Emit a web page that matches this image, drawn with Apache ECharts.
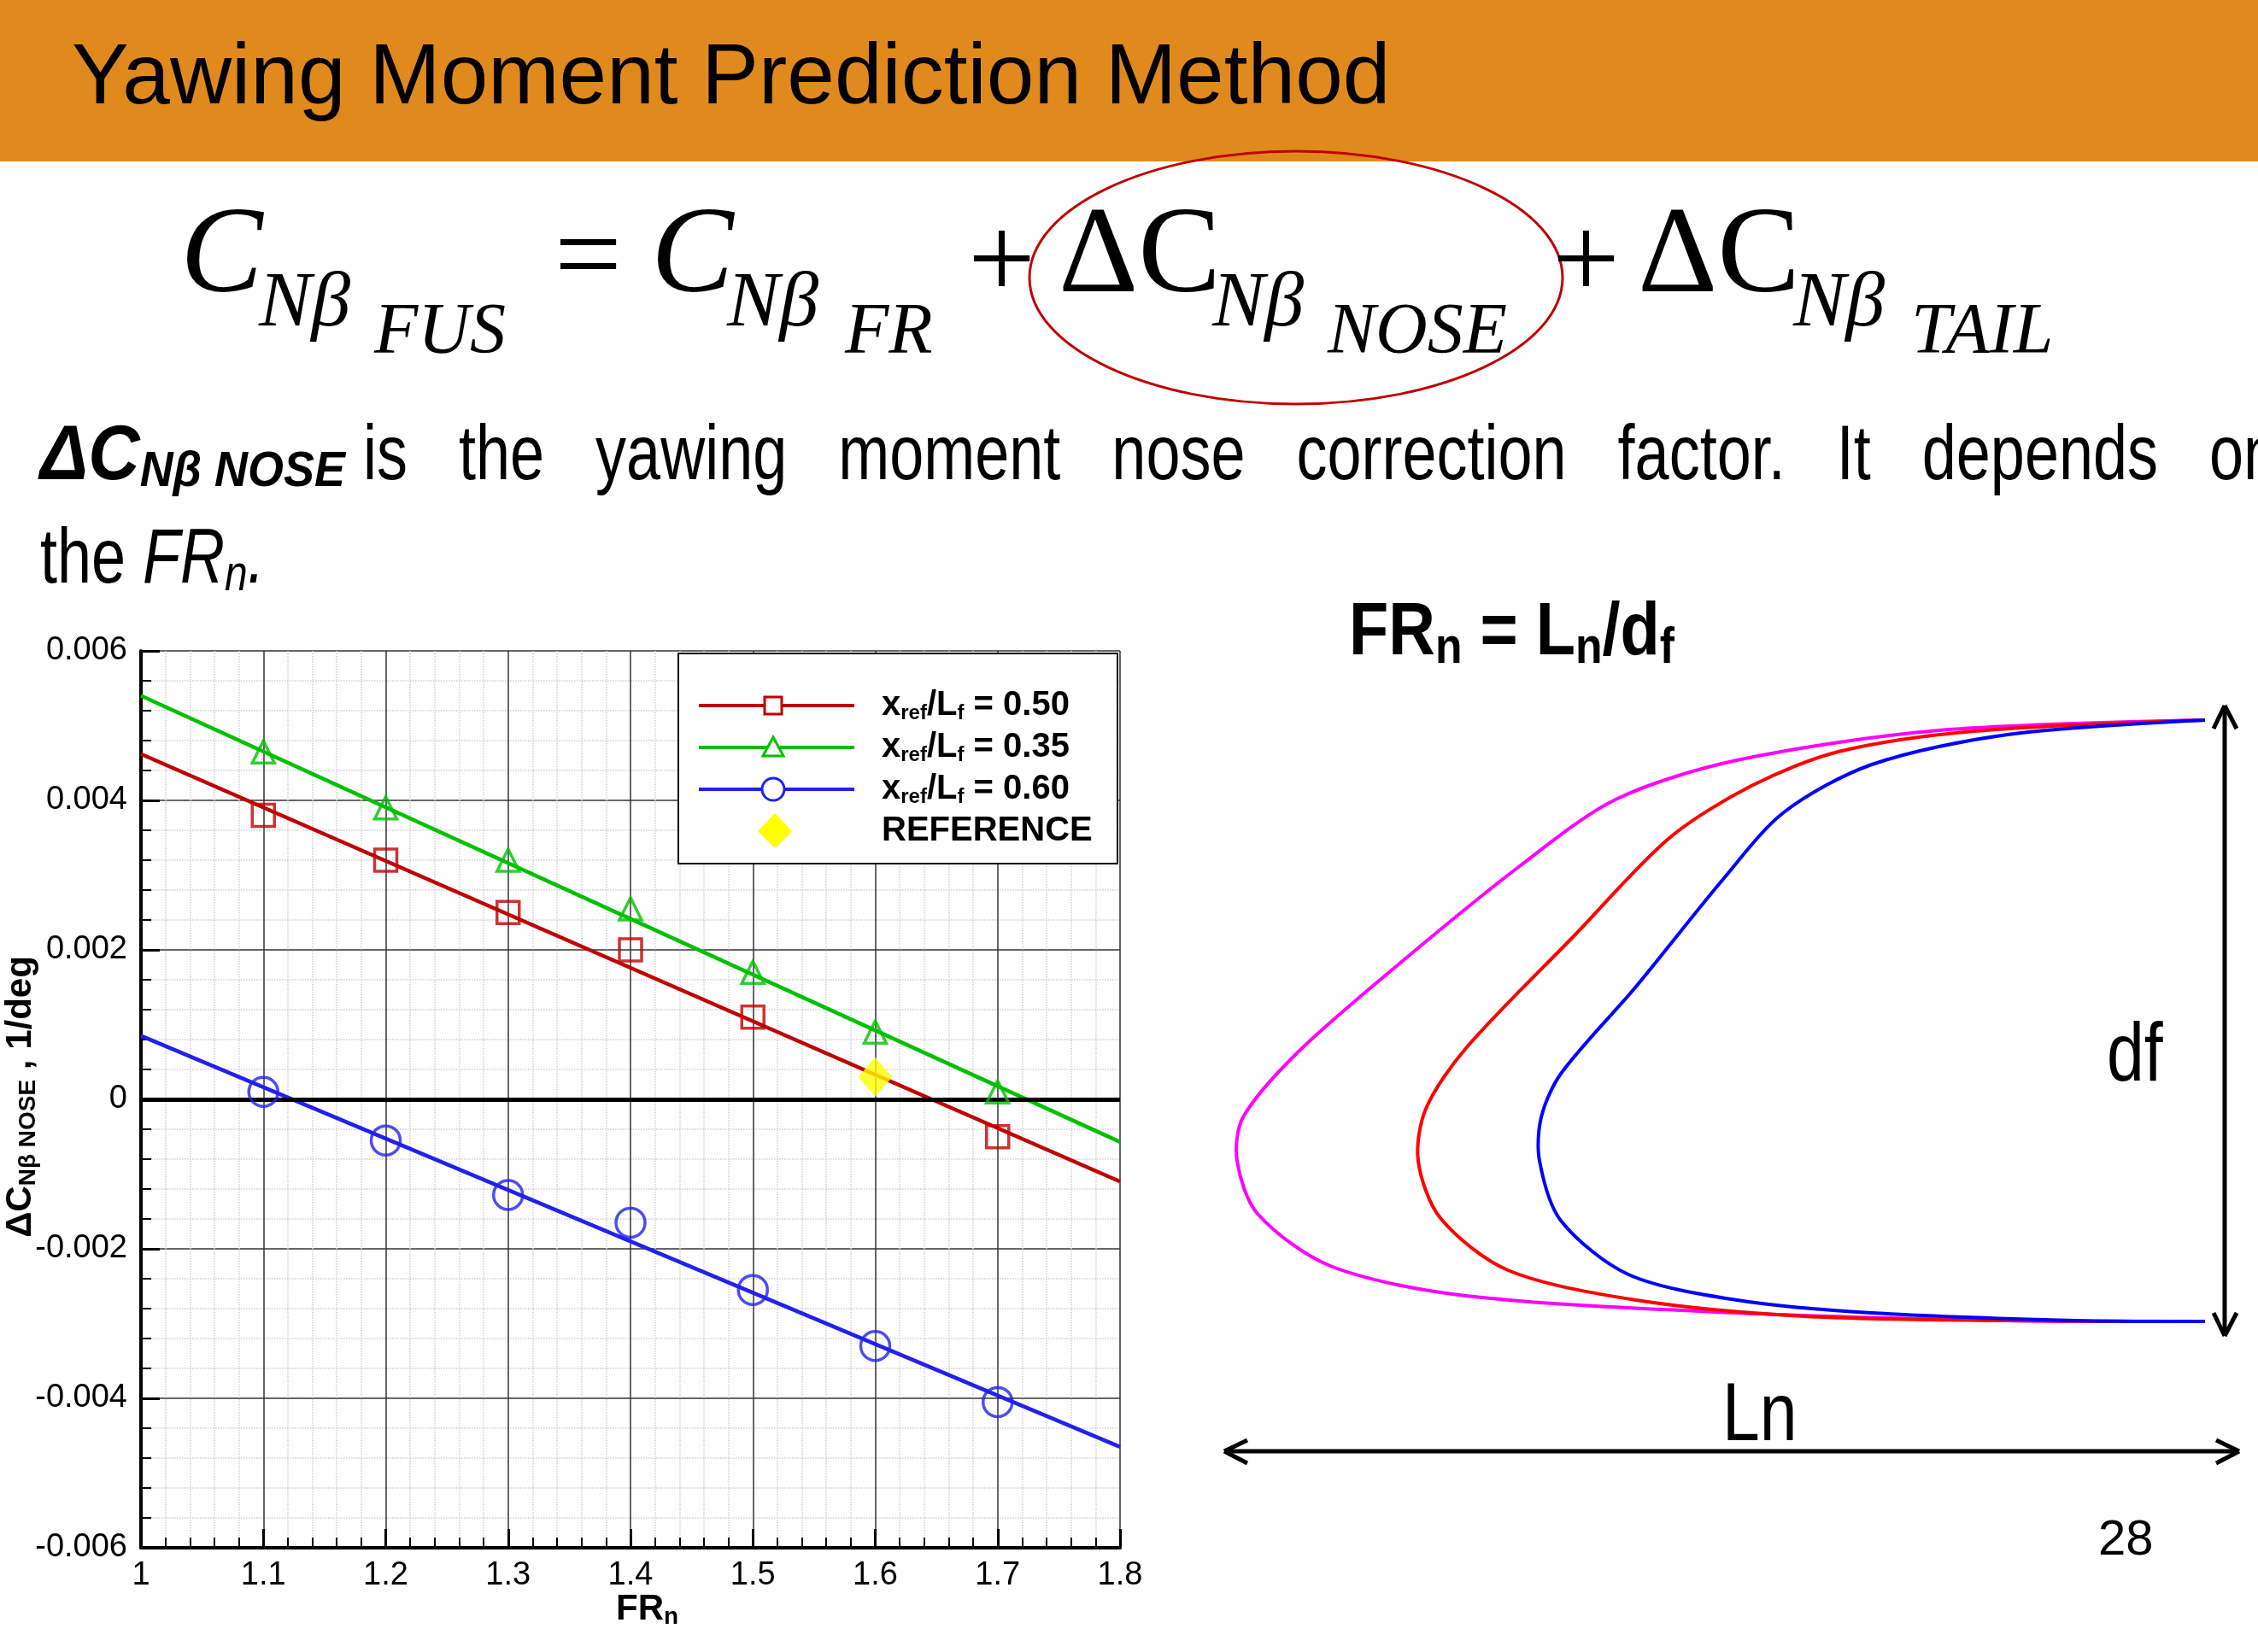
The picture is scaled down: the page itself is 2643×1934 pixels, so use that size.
<!DOCTYPE html>
<html><head><meta charset="utf-8">
<script src="https://cdn.jsdelivr.net/npm/echarts@6/dist/echarts.min.js"></script>
<style>html,body{margin:0;padding:0;background:#fff}#c{width:2643px;height:1934px}</style>
</head><body><div id="c"></div>
<script>
// data
var frn = [1.1, 1.2, 1.3, 1.4, 1.5, 1.6, 1.7];
var red050 = [0.0038, 0.0032, 0.0025, 0.0020, 0.0011, null, -0.0005];
var green035 = [0.00465, 0.0039, 0.0032, 0.00255, 0.0017, 0.0009, 0.0001];
var blue060 = [0.0001, -0.00055, -0.00128, -0.00165, -0.00255, -0.0033, -0.00405];
var fitX = [1.0, 1.8];
var redFit = [0.00462, -0.0011];
var greenFit = [0.0054, -0.00057];
var blueFit = [0.00085, -0.00465];
var refPoint = [1.6, 0.0003];

var S = 2643 / 1568;
function p(v){ return Math.round(v * S); }
function pts(a){ return a.map(function(q){ return [p(q[0]), p(q[1])]; }); }

// nose outlines (sketch, display coords)
var magenta = [[1531,500],[1347,507],[1206,528],[1122,555],[1056,601],[971,670],[901,731],[863,776],[859,806],[873,843],[924,879],[1018,900],[1206,912],[1394,917],[1531,918]];
var redNose = [[1531,500],[1371,508],[1277,522],[1216,546],[1159,582],[1094,649],[1018,728],[990,770],[985,806],[1000,846],[1047,882],[1136,903],[1253,914],[1394,917],[1531,918]];
var blueNose = [[1531,500],[1394,510],[1300,531],[1239,564],[1197,610],[1136,685],[1084,746],[1070,776],[1069,806],[1084,848],[1131,885],[1206,903],[1300,912],[1441,917],[1531,918]];

function zip(xs, ys){ return xs.map(function(x,i){ return [x, ys[i]]; }); }

var chart = echarts.init(document.getElementById('c'));
var times = 'Liberation Serif';
var sans = '"Liberation Sans"';
var g = [];
function txt(x, y, s, size, opt){
  opt = opt || {};
  g.push({type:'text', x:p(x), y:p(y), z:opt.z||10, scaleX:opt.sx||1, style:{text:s, fontSize:size, fontFamily:opt.family||times,
    fontStyle:opt.italic?'italic':'normal', fontWeight:opt.bold?'bold':'normal', fill:opt.color||'#000',
    textVerticalAlign:'middle', textAlign:opt.align||'left'}});
}
function rich(x, y, s, r, opt){
  opt = opt || {};
  g.push({type:'text', x:p(x), y:p(y), z:opt.z||10, scaleX:opt.sx||1, rotation:opt.rot||0,
    style:{text:s, rich:r, fill:'#000', textVerticalAlign:'middle', textAlign:opt.align||'left'}});
}
g.push({type:'rect', shape:{x:0,y:0,width:2643,height:p(112)}, style:{fill:'#E08A1E'}});
txt(50, 55, 'Yawing Moment Prediction Method', 100, {family:sans});
// formula
txt(125, 180, 'C', 145, {italic:true}); txt(180, 212, 'Nβ', 92, {italic:true}); txt(260, 232, 'FUS', 84, {italic:true});
txt(385, 182, '=', 140);
txt(452, 180, 'C', 145, {italic:true}); txt(505, 212, 'Nβ', 92, {italic:true}); txt(587, 232, 'FR', 84, {italic:true});
txt(672, 185, '+', 140);
txt(735, 180, 'ΔC', 145); txt(842, 212, 'Nβ', 92, {italic:true}); txt(922, 232, 'NOSE', 84, {italic:true});
txt(1078, 185, '+', 140);
txt(1137, 180, 'ΔC', 145); txt(1245, 212, 'Nβ', 92, {italic:true}); txt(1327, 232, 'TAIL', 84, {italic:true});
g.push({type:'ellipse', shape:{cx:p(900), cy:p(193), rx:p(185), ry:p(88)}, style:{fill:'none', stroke:'#C00000', lineWidth:3}});
// sentence
var bi = {fontFamily:sans, fontWeight:'bold', fontStyle:'italic'};
rich(28, 318, '{a|ΔC}{s|Nβ NOSE}', {a:Object.assign({fontSize:90}, bi), s:Object.assign({fontSize:58, padding:[34,0,0,0]}, bi)}, {sx:0.93});
txt(252, 318, 'is   the   yawing   moment   nose   correction   factor.   It   depends   on', 90, {family:sans, sx:0.8});
rich(28, 390, '{a|the }{i|FR}{s|n}{i|.}', {a:{fontSize:90, fontFamily:sans}, i:{fontSize:90, fontFamily:sans, fontStyle:'italic'}, s:{fontSize:60, fontFamily:sans, fontStyle:'italic', padding:[34,0,0,0]}}, {sx:0.8});
// FRn = Ln/df
var bb = {fontFamily:sans, fontWeight:'bold'};
rich(937, 440, '{a|FR}{s|n}{a| = L}{s|n}{a|/d}{s|f}', {a:Object.assign({fontSize:88}, bb), s:Object.assign({fontSize:60, padding:[34,0,0,0]}, bb)}, {sx:0.86});
// noses
[[magenta,'#FF00FF'],[redNose,'#FF0000'],[blueNose,'#0000FF']].forEach(function(c){
  g.push({type:'polyline', shape:{points:pts(c[0]), smooth:0.3}, style:{stroke:c[1], lineWidth:4, fill:'none'}});
});
// arrows
function arrow(x1,y1,x2,y2){
  g.push({type:'line', shape:{x1:p(x1),y1:p(y1),x2:p(x2),y2:p(y2)}, style:{stroke:'#000', lineWidth:5}});
}
arrow(1545,490,1545,928); arrow(1545,490,1537,506); arrow(1545,490,1553,506); arrow(1545,928,1537,912); arrow(1545,928,1553,912);
arrow(850,1008,1555,1008); arrow(850,1008,866,1000); arrow(850,1008,866,1016); arrow(1555,1008,1539,1000); arrow(1555,1008,1539,1016);
txt(1463, 735, 'df', 96, {family:sans, sx:0.82});
txt(1196, 985, 'Ln', 96, {family:sans, sx:0.82});
txt(1457, 1070, '28', 58, {family:sans});
// legend
g.push({type:'rect', z:20, shape:{x:p(471),y:p(454),width:p(305),height:p(146)}, style:{fill:'#fff', stroke:'#000', lineWidth:2}});
var leg = [['#C00000','rect','0.50'],['#00C000','triangle','0.35'],['#2020F0','circle','0.60']];
leg.forEach(function(l,i){
  var y = p(490 + i*29);
  g.push({type:'line', z:21, shape:{x1:p(485),y1:y,x2:p(593),y2:y}, style:{stroke:l[0], lineWidth:4}});
  if (l[1]==='rect') g.push({type:'rect', z:22, shape:{x:p(531),y:y-p(6),width:p(12),height:p(12)}, style:{fill:'#fff',stroke:l[0],lineWidth:3}});
  if (l[1]==='triangle') g.push({type:'polygon', z:22, shape:{points:[[p(537),y-p(7)],[p(530),y+p(6)],[p(544),y+p(6)]]}, style:{fill:'#fff',stroke:l[0],lineWidth:3}});
  if (l[1]==='circle') g.push({type:'circle', z:22, shape:{cx:p(537),cy:y,r:p(8)}, style:{fill:'#fff',stroke:l[0],lineWidth:3}});
  g.push({type:'text', z:22, x:p(612), y:y, style:{fill:'#000', textVerticalAlign:'middle',
    text:'{a|x}{s|ref}{a|/L}{s|f}{a| = '+l[2]+'}', rich:{a:Object.assign({fontSize:40}, bb), s:Object.assign({fontSize:24, padding:[18,0,0,0]}, bb)}}});
});
g.push({type:'polygon', z:22, shape:{points:[[p(538),p(565)],[p(550),p(577)],[p(538),p(589)],[p(526),p(577)]]}, style:{fill:'#FFFF00'}});
txt(612, 577, 'REFERENCE', 40, {family:sans, bold:true, z:22});
// axis names
rich(14, 762, '{a|ΔC}{s|Nβ NOSE}{a| , 1/deg}', {a:Object.assign({fontSize:42}, bb), s:Object.assign({fontSize:28, padding:[18,0,0,0]}, bb)}, {align:'center', rot:Math.PI/2});
rich(428, 1118, '{a|FR}{s|n}', {a:Object.assign({fontSize:42}, bb), s:Object.assign({fontSize:28, padding:[18,0,0,0]}, bb)});

function mk(color, symbol, ys){
  return {type:'scatter', data:zip(frn, ys).filter(function(d){return d[1]!==null;}), symbol:symbol, symbolSize:symbol==='circle'?34:26,
    itemStyle:{color:'transparent', borderColor:color, borderWidth:3.5}, z:5};
}
function fit(color, ys){
  return {type:'line', data:zip(fitX, ys), showSymbol:false, lineStyle:{color:color, width:4.5}, z:4};
}
var labelStyle = {fontSize:38, color:'#000', fontFamily:sans};
function axisCommon(){
  return {
    axisTick:{inside:true, length:22, lineStyle:{color:'#000', width:3}},
    minorTick:{show:true, splitNumber:5, length:12, lineStyle:{color:'#000', width:2}},
    splitLine:{lineStyle:{color:'#333', width:1.5}},
    minorSplitLine:{show:true, lineStyle:{color:'#d0d0d0', type:'dotted', width:1.5}}
  };
}
chart.setOption({
  animation:false,
  backgroundColor:'#fff',
  graphic:g,
  grid:{left:p(98), right:2643-p(778), top:p(452), bottom:1934-p(1075)},
  xAxis:Object.assign({type:'value', min:1, max:1.8, interval:0.1,
    axisLine:{onZero:false, lineStyle:{color:'#000', width:4}},
    axisLabel:Object.assign({margin:14, formatter:function(v){return +v.toFixed(1)+'';}}, labelStyle)}, axisCommon()),
  yAxis:Object.assign({type:'value', min:-0.006, max:0.006, interval:0.002,
    axisLine:{show:true, lineStyle:{color:'#000', width:4}},
    axisLabel:Object.assign({margin:16, formatter:function(v){return v===0?'0':(+v.toFixed(3))+'';}}, labelStyle)}, axisCommon()),
  series:[
    {type:'line', data:[], markLine:{silent:true, symbol:'none', label:{show:false}, lineStyle:{color:'#000', width:5, type:'solid'}, data:[{yAxis:0}]}},
    fit('#C00000', redFit), fit('#00C000', greenFit), fit('#2020F0', blueFit),
    mk('#C00000', 'rect', red050),
    mk('#00C000', 'triangle', green035),
    mk('#2020F0', 'circle', blue060),
    {type:'scatter', data:[refPoint], symbol:'diamond', symbolSize:[40,46], itemStyle:{color:'#FFFF00'}, z:6}
  ]
});
</script></body></html>
